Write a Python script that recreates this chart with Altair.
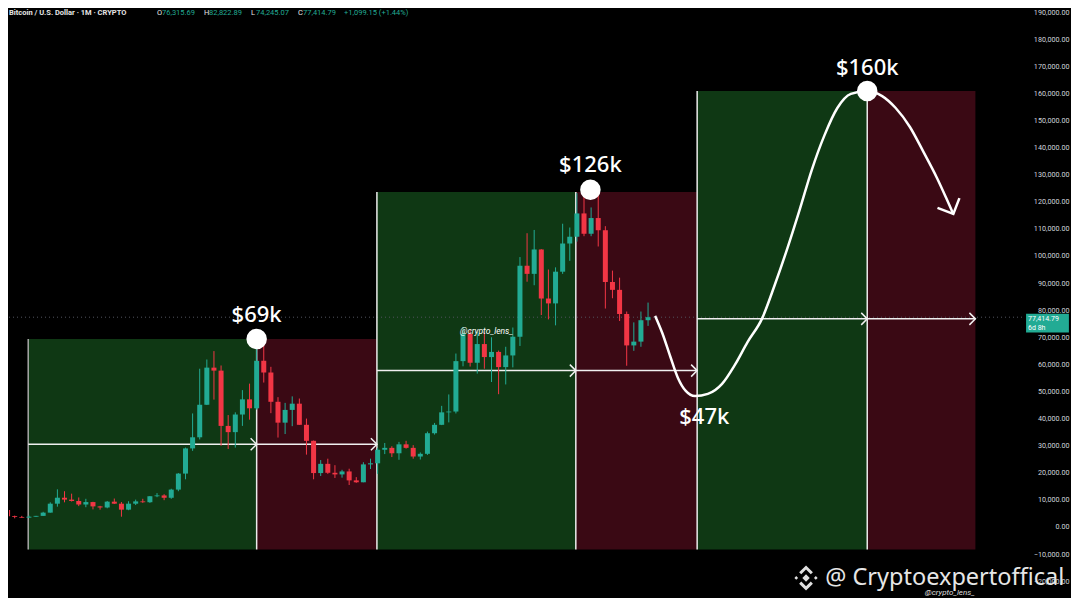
import altair as alt
import pandas as pd

# ---------------- data (prices in thousands of USD) ----------------
month_labels = list(pd.period_range("2018-11", periods=91, freq="M").astype(str))

opens = [6.3, 4.0, 3.7, 3.45, 3.8, 4.1, 5.3, 8.6, 10.8, 10.1, 9.6, 8.3, 9.2, 7.6, 7.2, 9.35, 8.6, 6.4, 8.6, 9.45,
         9.14, 11.35, 11.65, 10.78, 13.8, 19.7, 29.0, 33.1, 45.1, 58.8, 57.7, 37.3, 35.0, 41.5, 47.1, 43.8, 61.3, 57.0, 46.2, 38.5,
         43.2, 45.5, 37.7, 31.8, 19.9, 23.3, 20.0, 19.4, 20.5, 17.2, 16.5, 23.1, 23.5, 28.5, 29.2, 27.2, 30.5, 29.2, 26.0, 27.0,
         34.6, 37.7, 42.3, 42.6, 61.2, 71.3, 60.6, 67.5, 62.7, 64.6, 59.0, 63.3, 70.2, 96.4, 93.4, 102.4, 84.3, 82.5, 94.2, 104.6,
         107.1, 115.7, 108.2, 114.0, 109.5, 90.4, 87.5, 78.6, 67.0, 68.4, 76.3]
highs = [6.6, 4.2, 4.1, 4.2, 4.1, 5.6, 9.1, 13.9, 13.2, 12.3, 10.9, 10.4, 9.3, 7.8, 9.6, 10.5, 9.2, 9.5, 10.1, 10.4,
         11.4, 12.5, 12.1, 14.1, 19.9, 29.3, 41.9, 58.4, 61.8, 64.9, 59.6, 41.3, 42.3, 50.5, 52.9, 67.0, 69.0, 59.1, 47.9, 45.8,
         48.2, 47.4, 40.0, 31.9, 24.7, 25.2, 22.8, 21.1, 21.5, 18.4, 23.9, 25.2, 29.2, 31.0, 29.8, 31.4, 31.8, 30.2, 27.5, 35.2,
         38.4, 44.7, 48.9, 64.0, 73.8, 72.8, 72.0, 72.0, 70.0, 65.1, 66.5, 73.6, 99.6, 108.4, 109.6, 102.5, 95.0, 95.8, 111.9, 110.5,
         123.2, 124.5, 117.9, 126.2, 111.0, 94.6, 92.0, 79.5, 75.5, 79.5, 82.8]
lows = [3.6, 3.2, 3.4, 3.4, 3.7, 4.1, 5.3, 7.5, 9.1, 9.4, 7.7, 7.3, 6.5, 6.4, 6.9, 8.5, 3.8, 6.2, 8.1, 8.9,
        8.9, 11.0, 9.9, 10.4, 13.2, 17.6, 28.1, 32.3, 45.0, 47.0, 30.0, 28.8, 29.3, 37.3, 39.6, 43.3, 53.3, 42.0, 33.0, 34.3,
        37.2, 37.7, 26.7, 17.6, 18.8, 19.6, 18.1, 18.2, 15.5, 16.3, 16.5, 21.4, 19.6, 26.9, 25.8, 24.8, 28.9, 25.2, 24.9, 26.6,
        34.1, 37.6, 38.6, 41.9, 59.3, 59.2, 56.6, 58.4, 53.5, 49.0, 52.6, 58.9, 66.8, 90.5, 89.2, 78.2, 76.6, 74.4, 93.4, 98.2,
        105.3, 107.3, 107.3, 103.5, 80.6, 84.4, 76.0, 59.5, 65.0, 66.5, 74.2]
closes = [4.0, 3.7, 3.45, 3.8, 4.1, 5.3, 8.6, 10.8, 10.1, 9.6, 8.3, 9.2, 7.6, 7.2, 9.35, 8.6, 6.4, 8.6, 9.45, 9.14,
          11.35, 11.65, 10.78, 13.8, 19.7, 29.0, 33.1, 45.1, 58.8, 57.7, 37.3, 35.0, 41.5, 47.1, 43.8, 61.3, 57.0, 46.2, 38.5, 43.2,
          45.5, 37.7, 31.8, 19.9, 23.3, 20.0, 19.4, 20.5, 17.2, 16.5, 23.1, 23.5, 28.5, 29.2, 27.2, 30.5, 29.2, 26.0, 27.0, 34.6,
          37.7, 42.3, 42.6, 61.2, 71.3, 60.6, 67.5, 62.7, 64.6, 59.0, 63.3, 70.2, 96.4, 93.4, 102.4, 84.3, 82.5, 94.2, 104.6, 107.1,
          115.7, 108.2, 114.0, 109.5, 90.4, 87.5, 78.6, 67.0, 68.4, 76.3, 77.41479]

# cycle zones (x in month index, y in thousands)
zone_start = [2.9, 35.0, 51.9, 79.85, 96.9, 120.8]
zone_end = [35.0, 51.9, 79.85, 96.9, 120.8, 136.0]
zone_top = [69.4, 69.4, 123.6, 123.6, 160.9, 160.9]
zone_kind = ["bull", "bear", "bull", "bear", "bull", "bear"]
zone_bottom = -8.3

divider_x = [2.9, 35.0, 51.9, 79.85, 96.9, 120.8]
divider_top = [69.4, 69.4, 123.6, 123.6, 160.9, 160.9]
divider_tone = ["dim", "bright", "bright", "bright", "bright", "bright"]

arrow_start = [2.9, 51.9, 96.9]
arrow_end = [51.9, 96.9, 136.0]
arrow_mid = [35.0, 79.85, 120.8]
arrow_level = [30.5, 57.7, 76.8]

# projected path
path_x = [91.0, 92.0, 93.1, 94.2, 95.3, 96.6, 98.4, 100.4, 102.2, 104.0, 106.0, 107.8, 109.6, 111.3, 113.0,
          114.8, 116.6, 118.5, 120.8, 122.9, 124.8, 126.8, 128.7, 130.6, 131.9, 132.9]
path_y = [77.9, 71.6, 63.1, 55.0, 50.2, 48.3, 49.1, 52.8, 59.8, 68.3, 76.8, 89.3, 103.0, 117.0, 131.7,
          144.6, 154.6, 159.8, 160.9, 159.0, 154.6, 147.6, 138.4, 128.8, 121.4, 115.5]

peak_x = [35.0, 81.9, 120.8]
peak_y = [69.4, 124.4, 160.9]
label_text = ["$69k", "$126k", "$160k", "$47k"]
label_x = [35.0, 81.9, 120.8, 97.9]
label_y = [78.2, 133.6, 169.4, 40.6]

y_ticks = list(range(-20, 200, 10))
last_price = 77.41479
countdown = "6d 8h"

header_title = "Bitcoin / U.S. Dollar · 1M · CRYPTO"
header_keys = ["O", "H", "L", "C"]
header_vals = ["76,315.69", "82,822.89", "74,245.07", "77,414.79"]
header_change = "+1,099.15 (+1.44%)"

# ---------------- styling ----------------
UP = "#22ab94"
DOWN = "#f23645"
x_scale = alt.Scale(domain=[0.2, 142.97], nice=False, zero=False, padding=0)
y_scale = alt.Scale(domain=[-26.2, 191.5], nice=False, zero=False, padding=0)
y_axis = alt.Axis(orient="right", values=y_ticks, labelExpr="format(datum.value*1000, ',.2f')",
                  title=None, grid=False, domain=False, ticks=False, tickSize=0, labelPadding=44,
                  labelAlign="right", labelColor="#d1d4dc", labelFont="Roboto", labelFontSize=7.2,
                  labelOverlap=False)


def X(f):
    return alt.X(f, type="quantitative", scale=x_scale, axis=None)


def Y(f):
    return alt.Y(f, type="quantitative", scale=y_scale, axis=y_axis)


candles = pd.DataFrame({"month": month_labels, "idx": list(range(len(opens))),
                        "open": opens, "high": highs, "low": lows, "close": closes})
candles["dir"] = ["up" if c >= o else "down" for o, c in zip(opens, closes)]

zones = pd.DataFrame({"x": zone_start, "x2": zone_end, "top": zone_top, "kind": zone_kind})
zones["bottom"] = zone_bottom
dividers = pd.DataFrame({"x": divider_x, "top": divider_top, "tone": divider_tone})
dividers["bottom"] = zone_bottom
arrows = pd.DataFrame({"x": arrow_start, "x2": arrow_end, "y": arrow_level})
heads = pd.DataFrame({"x": arrow_mid + arrow_end, "y": arrow_level + arrow_level})
path = pd.DataFrame({"x": path_x, "y": path_y, "order": list(range(len(path_x)))})
path_tip = path.tail(1)
peaks = pd.DataFrame({"x": peak_x, "y": peak_y})
labels = pd.DataFrame({"x": label_x, "y": label_y, "t": label_text})
price_df = pd.DataFrame({"y": [last_price]})

zone_layer = alt.Chart(zones).mark_rect().encode(
    x=X("x"), x2=alt.X2("x2"), y=Y("bottom"), y2=alt.Y2("top"),
    fill=alt.Fill("kind:N", scale=alt.Scale(domain=["bull", "bear"], range=["#0f3814", "#3a0914"]), legend=None))

price_line = alt.Chart(price_df).mark_rule(color="#50535e", strokeDash=[1, 3], strokeWidth=1).encode(
    x=X("x0:Q"), x2=alt.X2("x1:Q"), y=Y("y")).transform_calculate(x0="0.2", x1="142.97")

divider_layer = alt.Chart(dividers).mark_rule(strokeWidth=1.5).encode(
    x=X("x"), y=Y("bottom"), y2=alt.Y2("top"),
    stroke=alt.Stroke("tone:N", scale=alt.Scale(domain=["dim", "bright"], range=["#a8a8a8", "#ececec"]), legend=None))

arrow_layer = alt.Chart(arrows).mark_rule(color="#f0f0f0", strokeWidth=1.5).encode(
    x=X("x"), x2=alt.X2("x2"), y=Y("y"))

head_layer = alt.Chart(heads).mark_point(shape="M-1,-1L0,0L-1,1", filled=False, size=144,
                                         color="#f0f0f0", strokeWidth=1.5, opacity=1).encode(
    x=X("x"), y=Y("y"))

color_enc = alt.Color("dir:N", scale=alt.Scale(domain=["up", "down"], range=[UP, DOWN]), legend=None)
wick_layer = alt.Chart(candles).mark_rule(strokeWidth=1, clip=True).encode(
    x=X("idx"), y=Y("low"), y2=alt.Y2("high"), color=color_enc)
body_layer = alt.Chart(candles).mark_bar(size=5, clip=True).encode(
    x=X("idx"), y=Y("open"), y2=alt.Y2("close"), color=color_enc)

path_layer = alt.Chart(path).mark_line(color="white", strokeWidth=2.5, interpolate="monotone").encode(
    x=X("x"), y=Y("y"), order="order:Q")
tip_layer = alt.Chart(path_tip).mark_point(shape="M-1,-1L0,0L-1,1", filled=False, size=576, angle=66,
                                           color="white", strokeWidth=2.5, opacity=1).encode(
    x=X("x"), y=Y("y"))

peak_layer = alt.Chart(peaks).mark_point(shape="circle", filled=True, size=420, color="white", opacity=1).encode(
    x=X("x"), y=Y("y"))

label_layer = alt.Chart(labels).mark_text(font="Noto Sans", fontSize=22, color="white", fontWeight=500).encode(
    x=X("x"), y=Y("y"), text="t:N")

wm1 = alt.Chart(pd.DataFrame({"x": [67.3], "y": [72.3], "t": ["@crypto_lens_"]})).mark_text(
    font="Roboto", fontSize=8.5, fontStyle="italic", color="white").encode(x=X("x"), y=Y("y"), text="t:N")
wm2 = alt.Chart(pd.DataFrame({"x": [132.4], "y": [-24.5], "t": ["@crypto_lens_"]})).mark_text(
    font="Roboto", fontSize=8, fontStyle="italic", color="#dddddd").encode(x=X("x"), y=Y("y"), text="t:N")

logo_shape = ("M0,-0.28L0.28,0L0,0.28L-0.28,0Z "
              "M-0.74,-0.14L-0.6,0L-0.74,0.14L-0.88,0Z "
              "M0.74,-0.14L0.88,0L0.74,0.14L0.6,0Z "
              "M0,-0.95L0.52,-0.43L0.36,-0.27L0,-0.63L-0.36,-0.27L-0.52,-0.43Z "
              "M0,0.95L0.52,0.43L0.36,0.27L0,0.63L-0.36,0.27L-0.52,0.43Z")
logo = alt.Chart(pd.DataFrame({"x": [112.2], "y": [-18.8]})).mark_point(
    shape=logo_shape, filled=True, size=700, color="#e0e0e0", opacity=1).encode(x=X("x"), y=Y("y"))
brand = alt.Chart(pd.DataFrame({"x": [114.9], "y": [-18.8], "t": ["@ Cryptoexpertoffical"]})).mark_text(
    font="Noto Sans", fontSize=23.5, color="#e6e6e6", align="left", baseline="middle").encode(
    x=X("x"), y=Y("y"), text="t:N")

tag = alt.Chart(pd.DataFrame({"x": [143.12], "x2": [149.14], "y": [71.8], "y2": [78.7]})).mark_rect(color=UP).encode(
    x=X("x"), x2=alt.X2("x2"), y=Y("y"), y2=alt.Y2("y2"))
tag_text = alt.Chart(pd.DataFrame({"x": [143.4, 143.4], "y": [76.7, 73.6],
                                   "t": [f"{last_price * 1000:,.2f}", countdown]})).mark_text(
    font="Roboto", fontSize=7, color="white", align="left", baseline="middle").encode(
    x=X("x"), y=Y("y"), text="t:N")

header_layers = [alt.Chart(pd.DataFrame({"t": [header_title]})).mark_text(
    font="Roboto", fontSize=7.5, fontWeight="bold", color="#e6e6e6", align="left", baseline="middle").encode(
    x=alt.value(0), y=alt.value(5), text="t:N")]
key_pos = [148, 195, 242, 289]
for k, v, px in zip(header_keys, header_vals, key_pos):
    header_layers.append(alt.Chart(pd.DataFrame({"t": [k]})).mark_text(
        font="Roboto", fontSize=7.5, color="#e6e6e6", align="left", baseline="middle").encode(
        x=alt.value(px), y=alt.value(5), text="t:N"))
    header_layers.append(alt.Chart(pd.DataFrame({"t": [v]})).mark_text(
        font="Roboto", fontSize=7.5, color=UP, align="left", baseline="middle").encode(
        x=alt.value(px + 5), y=alt.value(5), text="t:N"))
header_layers.append(alt.Chart(pd.DataFrame({"t": [header_change]})).mark_text(
    font="Roboto", fontSize=7.5, color=UP, align="left", baseline="middle").encode(
    x=alt.value(335), y=alt.value(5), text="t:N"))

chart = alt.layer(
    zone_layer, price_line, divider_layer, arrow_layer, head_layer, wick_layer, body_layer,
    path_layer, tip_layer, peak_layer, label_layer, wm1, wm2, logo, brand, tag, tag_text, *header_layers
).properties(
    width=1063, height=590, padding=0, background="#000000",
    autosize=alt.AutoSizeParams(type="fit", contains="padding"),
).configure_view(stroke=None)

chart.save("out.html", embed_options={"renderer": "svg", "actions": False})
